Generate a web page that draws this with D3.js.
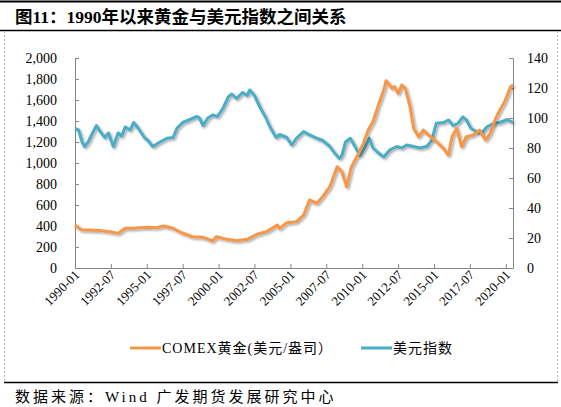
<!DOCTYPE html>
<html>
<head>
<meta charset="utf-8">
<script src="https://cdn.jsdelivr.net/npm/d3@7"></script>
<style>
  body { margin: 0; background: #fff; }
  svg { display: block; }
</style>
</head>
<body>
<script>
// values (month, value)
const goldDates = ["1990-01","1990-03","1990-06","1990-12","1991-10","1992-06","1993-01","1993-07","1994-02","1995-01",
  "1995-09","1996-03","1996-11","1997-06","1998-03","1998-12","1999-08","1999-11","2000-08","2001-04",
  "2002-01","2002-09","2003-05","2004-02","2004-04","2004-10","2005-06","2005-12","2006-05","2006-11",
  "2007-04","2007-10","2008-04","2008-08","2008-12","2009-04","2009-10","2010-02","2010-06","2010-10",
  "2011-02","2011-07","2011-09","2012-02","2012-04","2012-07","2012-10","2013-01","2013-05","2013-08",
  "2013-12","2014-04","2014-10","2015-03","2015-09","2016-01","2016-04","2016-08","2016-12","2017-04",
  "2017-10","2018-03","2018-08","2018-12","2019-04","2019-08","2019-12","2020-05","2020-07"];
const goldValues = [410,393,365,362,356,346,330,378,378,387,
  384,400,378,336,298,292,257,298,273,260,
  273,321,346,410,378,432,441,505,648,616,
  679,774,965,917,774,965,1092,1187,1314,1393,
  1536,1695,1784,1711,1727,1663,1743,1711,1536,1330,
  1250,1314,1250,1203,1140,1076,1250,1330,1155,1250,
  1267,1314,1219,1283,1410,1505,1584,1727,1743];

const usdDates = ["1990-01","1990-04","1990-07","1990-09","1990-12","1991-03","1991-07","1991-10","1992-02","1992-05",
  "1992-09","1993-01","1993-04","1993-07","1993-11","1994-02","1994-06","1994-11","1995-02","1995-06",
  "1995-12","1996-06","1996-11","1997-02","1997-07","1998-01","1998-07","1998-09","1998-12","1999-04",
  "1999-08","1999-12","2000-05","2000-09","2000-12","2001-04","2001-09","2002-01","2002-03","2002-07",
  "2002-12","2003-04","2003-08","2004-01","2004-04","2004-10","2005-02","2005-06","2005-12","2006-05",
  "2006-11","2007-04","2007-10","2008-02","2008-06","2008-08","2008-11","2009-03","2009-07","2009-11",
  "2010-03","2010-07","2010-10","2011-02","2011-07","2011-12","2012-06","2012-10","2013-02","2013-08",
  "2014-01","2014-07","2014-11","2015-03","2015-09","2016-01","2016-05","2016-09","2017-01","2017-04",
  "2017-08","2018-01","2018-05","2018-09","2019-03","2019-08","2020-02","2020-07"];
const usdValues = [93,92,84,81,84,89,95,91,87,90,
  81,90,88,94,92,97,93,87,85,81,
  84,86.5,87,93,97,99,101,100,95,100,
  102,101,107,114,116,113,117,115,118.7,115,
  106.5,101,94,87,89,87,82,86.5,91,88.7,
  86.5,85,81,76.5,73,75,84,86.5,81,75,
  80,86.5,80,77,74,78.7,81,80,82,81,
  80,81,85,96.5,97,98.7,95,96.5,100.7,98.7,
  93,90.7,90,94,96.5,97,99,97];

const xTickDates = ["1990-01","1992-07","1995-01","1997-07","2000-01","2002-07","2005-01","2007-07","2010-01","2012-07","2015-01","2017-07","2020-01"];
const leftTicks = [0,200,400,600,800,1000,1200,1400,1600,1800,2000];
const rightTicks = [0,20,40,60,80,100,120,140];
const seriesNames = ["COMEX黄金(美元/盎司）", "美元指数"];

const w = 561, h = 407;
const orange = "#f79646", blue = "#4bacc6";
const parse = d3.timeParse("%Y-%m");
const serif = "'Liberation Serif','Noto Sans CJK SC',serif";

const svg = d3.select("body").append("svg").attr("width", w).attr("height", h);

const defs = svg.append("defs");
const f = defs.append("filter").attr("id", "shadow")
  .attr("x", "-5%").attr("y", "-5%").attr("width", "110%").attr("height", "120%");
f.append("feDropShadow").attr("dx", 1.5).attr("dy", 1.5).attr("stdDeviation", 1.2)
  .attr("flood-color", "#000").attr("flood-opacity", 0.35);

// frame
svg.append("line").attr("x1", 0).attr("x2", w).attr("y1", 1.5).attr("y2", 1.5)
  .attr("stroke", "#000").attr("stroke-width", 2);
svg.append("line").attr("x1", 0).attr("x2", w).attr("y1", 30.5).attr("y2", 30.5)
  .attr("stroke", "#000").attr("stroke-width", 1.5);
svg.append("line").attr("x1", 4.5).attr("x2", 4.5).attr("y1", 31).attr("y2", 382)
  .attr("stroke", "#bbb").attr("stroke-dasharray", "2,2");
svg.append("line").attr("x1", 557.5).attr("x2", 557.5).attr("y1", 31).attr("y2", 382)
  .attr("stroke", "#bbb").attr("stroke-dasharray", "2,2");
svg.append("line").attr("x1", 4).attr("x2", 558).attr("y1", 382.5).attr("y2", 382.5)
  .attr("stroke", "#000").attr("stroke-width", 1.5);

svg.append("text").attr("x", 15).attr("y", 23)
  .attr("font-family", "'Liberation Serif','Noto Sans CJK SC',serif")
  .attr("font-weight", "bold").attr("font-size", "17.5px")
  .text("图11：1990年以来黄金与美元指数之间关系");

svg.append("text").attr("x", 15).attr("y", 402)
  .attr("font-family", serif).attr("font-size", "15px").attr("letter-spacing", "3px")
  .text("数据来源：Wind 广发期货发展研究中心");

// scales
const x = d3.scaleTime().domain([parse("1990-01"), parse("2020-07")]).range([75, 513]);
const yL = d3.scaleLinear().domain([0, 2000]).range([268, 58]);
const yR = d3.scaleLinear().domain([0, 140]).range([268, 58]);

const styleAxis = g => {
  g.select(".domain").attr("stroke", "#868686");
  g.selectAll(".tick line").attr("stroke", "#868686");
  g.selectAll("text").attr("font-family", serif).attr("font-size", "14px").attr("fill", "#000");
};

svg.append("g").attr("transform", "translate(75,0)")
  .call(d3.axisLeft(yL).tickValues(leftTicks).tickFormat(d3.format(",")).tickSize(-4).tickPadding(18).tickSizeOuter(0))
  .call(styleAxis);

svg.append("g").attr("transform", "translate(513,0)")
  .call(d3.axisRight(yR).tickValues(rightTicks).tickSize(-4).tickPadding(14).tickSizeOuter(0))
  .call(styleAxis);

const xg = svg.append("g").attr("transform", "translate(0,268)")
  .call(d3.axisBottom(x).tickValues(xTickDates.map(parse)).tickFormat(d3.timeFormat("%Y-%m")).tickSize(-4).tickSizeOuter(0))
  .call(styleAxis);
xg.selectAll("text")
  .attr("text-anchor", "end")
  .attr("dy", "0.3em")
  .attr("transform", "translate(2,5) rotate(-45)")
  .attr("y", 0).attr("x", 0)
  .attr("font-size", "13px");

// lines
const gold = goldDates.map((d, i) => ({ date: parse(d), v: goldValues[i] }));
const usd = usdDates.map((d, i) => ({ date: parse(d), v: usdValues[i] }));

svg.append("path").datum(usd)
  .attr("fill", "none").attr("stroke", blue).attr("stroke-width", 3)
  .attr("stroke-linejoin", "round").attr("filter", "url(#shadow)")
  .attr("d", d3.line().x(d => x(d.date)).y(d => yR(d.v)));

svg.append("path").datum(gold)
  .attr("fill", "none").attr("stroke", orange).attr("stroke-width", 3)
  .attr("stroke-linejoin", "round").attr("filter", "url(#shadow)")
  .attr("d", d3.line().x(d => x(d.date)).y(d => yL(d.v)));

// legend
const legend = svg.append("g");
const items = [
  { name: seriesNames[0], color: orange, x: 130 },
  { name: seriesNames[1], color: blue, x: 361 }
];
items.forEach(it => {
  legend.append("line").attr("x1", it.x).attr("x2", it.x + 31).attr("y1", 348).attr("y2", 348)
    .attr("stroke", it.color).attr("stroke-width", 3);
  legend.append("text").attr("x", it.x + 32).attr("y", 353)
    .attr("font-family", serif).attr("font-size", "14px").attr("letter-spacing", "1px")
    .text(it.name);
});
</script>
</body>
</html>
